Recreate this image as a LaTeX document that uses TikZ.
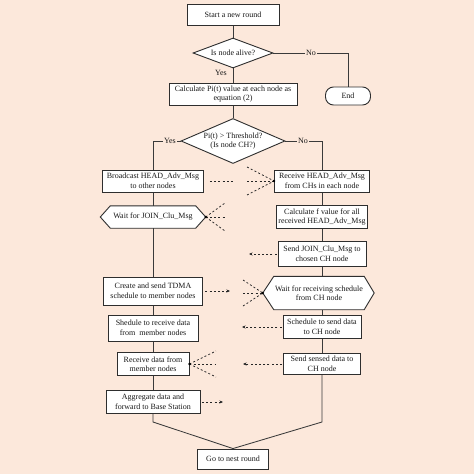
\documentclass[tikz,border=0pt]{standalone}
\usepackage{fontspec}
\setmainfont{Liberation Serif}
\usetikzlibrary{backgrounds,shapes.geometric,arrows.meta,calc}
\definecolor{bgc}{HTML}{FCE8DB}
\definecolor{boxc}{HTML}{2E2E2E}
\definecolor{linec}{HTML}{3A3A3A}
\tikzset{
  txt/.style={font=\fontsize{8}{9.5}\selectfont, text=black!90},
  box/.style={txt, draw=boxc, line width=0.9pt, fill=white, inner sep=0pt, align=center},
  dia/.style={box, shape=diamond},
  hexbody/.style={txt, inner sep=0pt, align=center},
  hexline/.style={draw=boxc, line width=0.9pt, fill=white},
  conn/.style={draw=linec, line width=0.85pt},
  dots/.style={draw=black!85, line width=0.75pt, dash pattern=on 2pt off 2.2pt},
  darr/.style={dots, -{Stealth[length=3.5pt,width=3pt]}},
  lbl/.style={txt, fill=bgc, inner sep=1.5pt},
  dotend/.style={fill=black},
}
\begin{document}
\begin{tikzpicture}[x=1pt,y=-1pt]
\useasboundingbox (0,0) rectangle (474,474);
% nodes
\node[box, minimum width=92pt, minimum height=21pt] (start) at (233,15) {Start a new round};
\node[dia, minimum width=80pt, minimum height=30pt, label={[txt]center:Is node alive?}] (alive) at (233,53) {};
\node[box, rounded corners=8pt, minimum width=45pt, minimum height=18pt] (end) at (348,96) {End};
\node[box, minimum width=128pt, minimum height=22pt] (calc) at (233,94) {Calculate Pi(t) value at each node as\\equation (2)};
\node[dia, minimum width=104pt, minimum height=45pt, label={[txt, align=center]center:Pi(t) > Threshold?\\(Is node CH?)}] (thr) at (233,141) {};
\node[box, minimum width=101pt, minimum height=22pt] (bcast) at (153,181) {Broadcast HEAD\_Adv\_Msg\\to other nodes};
\node[box, minimum width=95pt, minimum height=22pt] (recv) at (322,181) {Receive HEAD\_Adv\_Msg\\from CHs in each node};
\node[hexbody, minimum width=85pt, minimum height=22pt] (wait1) at (153,217) {Wait for JOIN\_Clu\_Msg};
\node[box, minimum width=91pt, minimum height=23pt] (calcf) at (322,217) {Calculate f value for all\\received HEAD\_Adv\_Msg};
\node[box, minimum width=88pt, minimum height=25pt] (sendjoin) at (322,254) {Send JOIN\_Clu\_Msg to\\chosen CH node};
\node[box, minimum width=99pt, minimum height=28pt] (tdma) at (153,291) {Create and send TDMA\\schedule to member nodes};
\node[hexbody, minimum width=90pt, minimum height=33pt] (wait2) at (319,293) {Wait for receiving schedule\\from CH node};
\node[box, minimum width=90pt, minimum height=26pt] (shed) at (153,328) {Shedule to receive data\\from\ \ member nodes};
\node[box, minimum width=78pt, minimum height=23pt] (schsend) at (322,327) {Schedule to send data\\to CH node};
\node[box, minimum width=72pt, minimum height=23pt] (rdata) at (153,364) {Receive data from\\member nodes};
\node[box, minimum width=77pt, minimum height=21pt] (ssens) at (322,364) {Send sensed data to\\CH node};
\node[box, minimum width=94pt, minimum height=23pt] (aggr) at (153,402) {Aggregate data and\\forward to Base Station};
\node[box, minimum width=71pt, minimum height=20pt] (go) at (233,459) {Go to nest round};
% labels
\node[lbl] (no1) at (311,53) {No};
\node[lbl] (yes1) at (221,73) {Yes};
\node[lbl] (yes2) at (170,141) {Yes};
\node[lbl] (no2) at (303,141) {No};
% coordinates
\coordinate (lj) at (153,422);
\coordinate (rj) at (322,422);
\coordinate (w1p) at ($(wait1.east)+(10,0)$);
\coordinate (w1q) at ($(wait1.west)+(-10,0)$);
\coordinate (w2p) at ($(wait2.west)+(-11,0)$);
\coordinate (w2q) at ($(wait2.east)+(10,0)$);
\coordinate (b2) at (235,181);
\coordinate (fa1) at (247,167); \coordinate (fa2) at (247,181); \coordinate (fa3) at (247,195);
\coordinate (fb1) at (225,203); \coordinate (fb2) at (225,217); \coordinate (fb3) at (225,231);
\coordinate (sj) at (249,254);
\coordinate (td) at (230,291);
\coordinate (fc1) at (243,280); \coordinate (fc2) at (243,293); \coordinate (fc3) at (243,306);
\coordinate (ss) at (242,327);
\coordinate (fd1) at (216,351); \coordinate (fd2) at (216,364); \coordinate (fd3) at (216,377);
\coordinate (sd) at (243,364);
\coordinate (ag) at (223,402);
\begin{scope}[on background layer]
\fill[bgc] (0,0) rectangle (474,474);
% flow connectors
\draw[conn] (start.south) -- (alive.north);
\draw[conn] (alive.east) -| (end.north);
\draw[conn] (alive.south) -- (calc.north);
\draw[conn] (calc.south) -- (thr.north);
\draw[conn] (thr.west) -| (bcast.north);
\draw[conn] (thr.east) -| (recv.north);
\draw[conn] (bcast.south) -- (wait1.north);
\draw[conn] (wait1.south) -- (tdma.north);
\draw[conn] (tdma.south) -- (shed.north);
\draw[conn] (shed.south) -- (rdata.north);
\draw[conn] (rdata.south) -- (aggr.north);
\draw[conn] (aggr.south) -- (lj) -- (go.north);
\draw[conn] (recv.south) -- (calcf.north);
\draw[conn] (calcf.south) -- (sendjoin.north);
\draw[conn] (sendjoin.south) -- (sendjoin.south |- wait2.north);
\draw[conn] (schsend.north |- wait2.south) -- (schsend.north);
\draw[conn] (schsend.south) -- (ssens.north);
\draw[conn] (ssens.south) -- (rj) -- (go.north);
% hexagons
\draw[hexline] (wait1.north west) -- (w1q) -- (wait1.south west) -- (wait1.south east) -- (w1p) -- (wait1.north east) -- cycle;
\draw[hexline] (wait2.north west) -- (w2p) -- (wait2.south west) -- (wait2.south east) -- (w2q) -- (wait2.north east) -- cycle;
% dotted messages
\draw[dots, shorten <=6pt] (bcast.east) -- (b2);
\draw[dots] (fa1) -- (recv.west); \draw[dots] (fa2) -- (recv.west); \draw[dots] (fa3) -- (recv.west);
\draw[dots] (w1p) -- (fb1); \draw[dots] (w1p) -- (fb2); \draw[dots] (w1p) -- (fb3);
\draw[darr, shorten <=1pt] (sendjoin.west) -- (sj);
\draw[darr, shorten <=2.5pt] (tdma.east) -- (td);
\draw[dots] (fc1) -- (w2p); \draw[dots] (fc2) -- (w2p); \draw[dots] (fc3) -- (w2p);
\draw[darr, shorten <=1pt] (schsend.west) -- (ss);
\draw[dots] (rdata.east) -- (fd1); \draw[dots] (rdata.east) -- (fd2); \draw[dots] (rdata.east) -- (fd3);
\draw[darr, shorten <=1pt] (ssens.west) -- (sd);
\draw[darr, shorten <=1.5pt] (aggr.east) -- (ag);
\end{scope}
\fill[dotend] (recv.west) circle (1.4pt);
\fill[dotend] (w1p) circle (1.4pt);
\fill[dotend] (w2p) circle (1.4pt);
\fill[dotend] (rdata.east) circle (1.4pt);
\end{tikzpicture}
\end{document}
